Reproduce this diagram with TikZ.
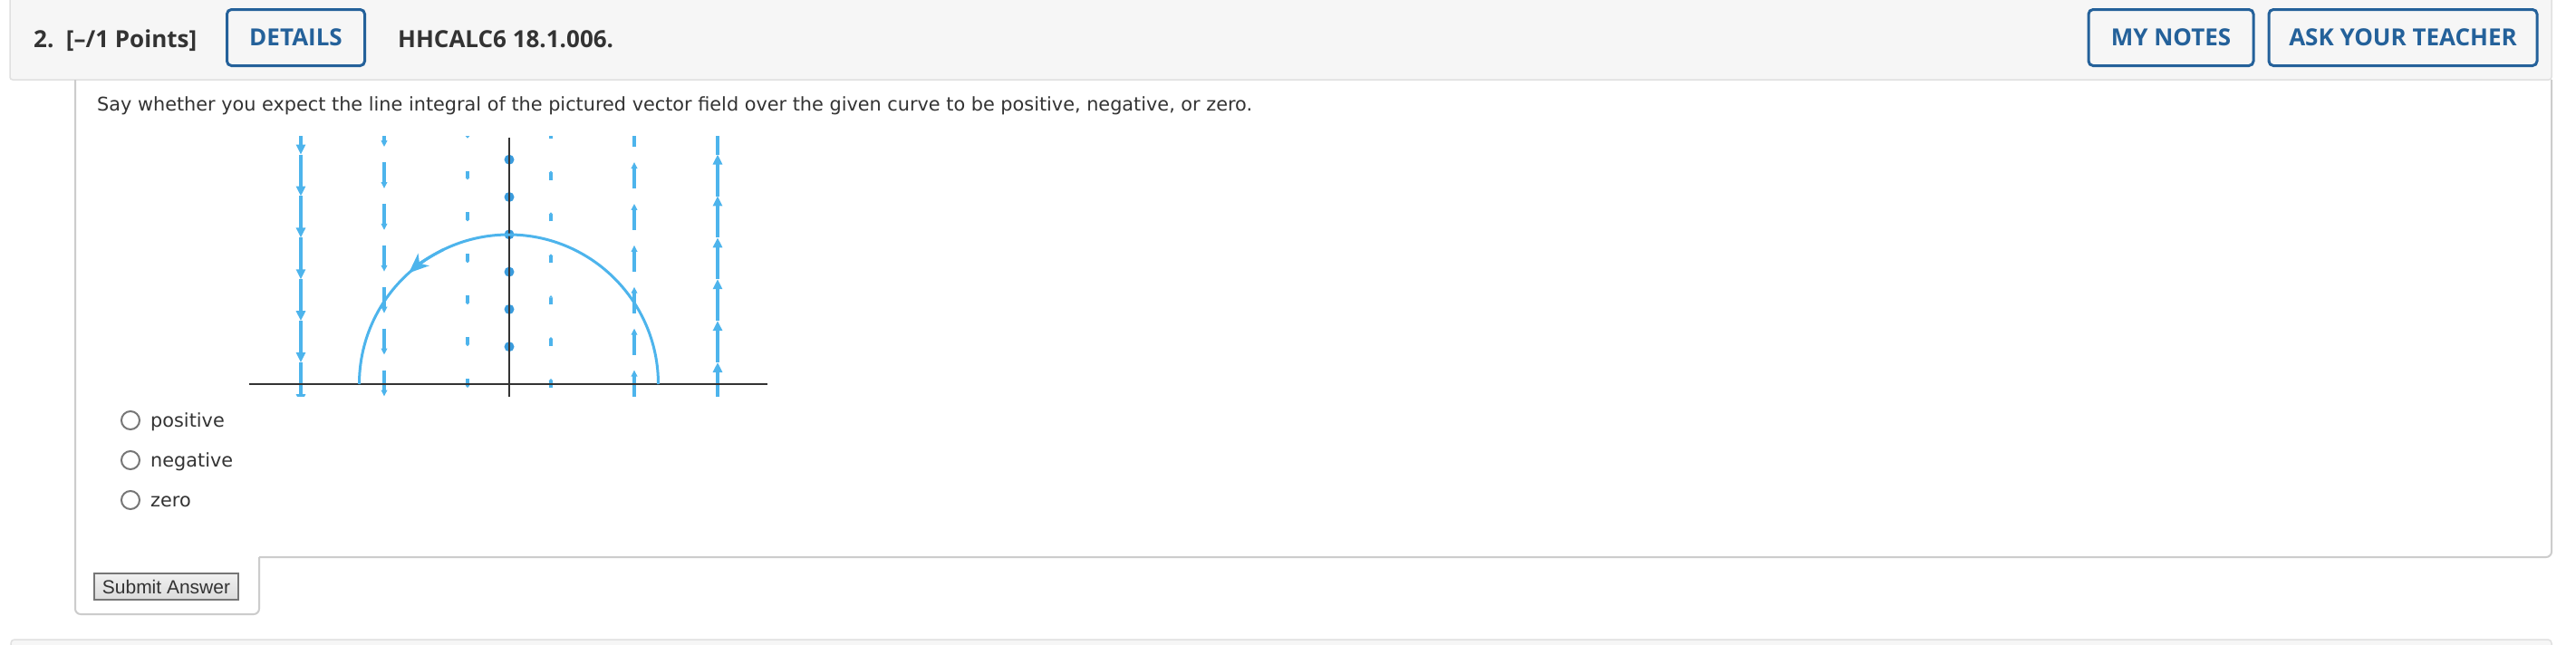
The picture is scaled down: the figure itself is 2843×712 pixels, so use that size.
\documentclass[tikz,border=0pt]{standalone}
\usepackage{fontspec}
\setmainfont{DejaVu Sans}
\newfontfamily\osans{Open Sans}
\newfontfamily\lsans{Liberation Sans}
\usetikzlibrary{arrows.meta,shadings}
\definecolor{hdrbg}{HTML}{F6F6F6}
\definecolor{hdrline}{HTML}{E0E0E0}
\definecolor{btnblue}{HTML}{24619A}
\definecolor{txt}{HTML}{333333}
\definecolor{boxline}{HTML}{CCCCCC}
\definecolor{field}{HTML}{4DB4EC}
\definecolor{dotc}{HTML}{3A9BDC}
\definecolor{radio}{HTML}{767676}
\tikzset{
  btn/.style={draw=btnblue, line width=3, rounded corners=5, fill=hdrbg, text=btnblue,
    font=\osans\bfseries\fontsize{26}{26}\selectfont, inner sep=0, minimum height=62},
  hdrtxt/.style={anchor=base west, text=txt, font=\osans\bfseries\fontsize{26}{26}\selectfont, inner sep=0},
  bodytxt/.style={anchor=base west, text=txt, font=\fontsize{20.8}{24}\selectfont, inner sep=0},
  fld/.style={draw=field, line width=3.5},
  radiob/.style={draw=radio, line width=2, fill=white},
}
\begin{document}
\begin{tikzpicture}[x=1pt,y=-1pt]
\useasboundingbox (0,0) rectangle (2843,712);
\fill[white] (0,0) rectangle (2843,712);
% header
\filldraw[draw=hdrline, fill=hdrbg, line width=1.5, rounded corners=3] (11,-10) rectangle (2816,88);
\node[hdrtxt] (qnum) at (37,52) {2.\ \ [–/1 Points]};
\node[btn, minimum width=152] (details) at (326.5,41.5) {DETAILS};
\node[hdrtxt] (qid) at (439,52) {HHCALC6 18.1.006.};
\node[btn, minimum width=182] (notes) at (2396,41.5) {MY NOTES};
\node[btn, minimum width=296] (ask) at (2652,41.5) {ASK YOUR TEACHER};
% content box
\draw[boxline, line width=2, rounded corners=6] (83,88) -- (83,678) -- (286,678) -- (286,615);
\draw[boxline, line width=2, rounded corners=6] (286,615) -- (2816,615) -- (2816,88);
% footer
\filldraw[draw=hdrline, fill=hdrbg, line width=1.5, rounded corners=4] (12,706) rectangle (2816,740);
% question
\node[bodytxt] (q) at (107,122) {Say whether you expect the line integral of the pictured vector field over the given curve to be positive, negative, or zero.};
% vector field
\begin{scope}
\clip (290,150) rectangle (830,437);
\foreach \k in {0,...,6}{
  \pgfmathsetmacro{\yy}{423-45.9*\k}
  % outer columns
  \draw[fld, -{Triangle[length=11,width=10]}] (332,\yy-23) -- (332,\yy+23);
  \draw[fld, -{Triangle[length=11,width=10]}] (792,\yy+23) -- (792,\yy-23);
  % middle columns
  \draw[fld, line width=3.2, -{Triangle[length=7,width=6.5]}] (424,\yy-14.5) -- (424,\yy+14.5);
  \draw[fld, line width=3.2, -{Triangle[length=7,width=6.5]}] (700,\yy+14.5) -- (700,\yy-14.5);
  % inner columns
  \draw[fld, line width=3.2, -{Triangle[length=2.5,width=4.5]}] (516,\yy-5) -- (516,\yy+5);
  \draw[fld, line width=3.2, -{Triangle[length=2.5,width=4.5]}] (608,\yy+5) -- (608,\yy-5);
}
\end{scope}
% dots on axis
\foreach \k in {1,...,6}{
  \fill[dotc] (562,{424-41.3*\k}) circle[radius=5.5];
}
% axes
\draw[black!80, line width=2] (274.5,424) -- (847,424);
\draw[black!80, line width=2] (562,151.5) -- (562,438);
% curve
\draw[field, line width=3] (726.5,424) arc[start angle=0, end angle=-180, radius=165];
\draw[field, line width=3, -{Stealth[length=22,width=18,inset=6]}] (561.5,424) ++(-116:165) arc[start angle=-116, end angle=-132, radius=165];
% options
\draw[radiob] (144,464) circle[radius=10];
\node[bodytxt] (pos) at (166,471) {positive};
\draw[radiob] (144,508) circle[radius=10];
\node[bodytxt] (neg) at (166,515) {negative};
\draw[radiob] (144,552) circle[radius=10];
\node[bodytxt] (zer) at (166,559) {zero};
% submit
\node[draw=radio, line width=1.5, top color=white!94!black, bottom color=white!86!black,
  minimum width=159, minimum height=29, inner sep=0, text=txt,
  font=\lsans\fontsize{21}{21}\selectfont] (submit) at (183.5,647.5) {Submit Answer};
\end{tikzpicture}
\end{document}
